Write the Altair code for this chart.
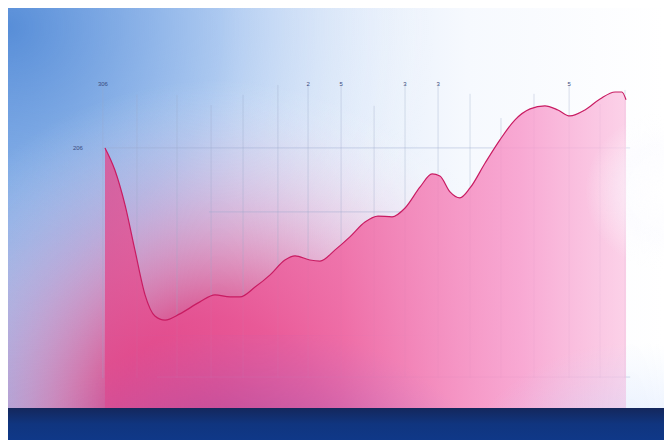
import altair as alt
import pandas as pd

# ---- data ----
curve_x = [0, 0.38, 0.77, 1.15, 1.54, 1.92, 2.31, 2.88, 3.65, 4.23, 4.81, 5.19, 5.77, 6.35,
           6.92, 7.31, 7.88, 8.27, 8.85, 9.42, 10.0, 10.5, 11.04, 11.54, 12.12, 12.58, 12.88,
           13.27, 13.65, 14.04, 14.62, 15.19, 15.77, 16.35, 16.92, 17.42, 17.88, 18.46, 19.04,
           19.62, 19.88, 20.04]
curve_y = [100, 91.5, 78.1, 60.8, 43.5, 35.4, 33.8, 36.2, 40.8, 43.5, 42.7, 42.7, 46.5, 51.2,
           56.9, 58.5, 56.9, 56.5, 60.8, 65.8, 71.5, 73.8, 73.5, 76.9, 85.0, 90.0, 89.2,
           83.1, 80.8, 84.6, 94.2, 103.1, 110.8, 115.0, 116.2, 114.6, 112.3, 114.6, 118.8,
           121.5, 121.5, 118.5]

vgrid_x = [-0.08, 1.23, 2.77, 4.08, 5.31, 6.65, 7.81, 9.08, 10.35, 11.54, 12.81, 14.04,
           15.23, 16.5, 17.85, 19.04, 20.0]
vgrid_top = [124.2, 120.4, 120.4, 116.5, 120.4, 124.2, 124.2, 124.2, 116.2, 124.2, 124.2,
             120.8, 111.5, 120.8, 124.2, 116.9, 122.3]
vgrid_bottom = 11.5

hgrid_y = [100, 75.4, 11.9]
hgrid_x1 = [-0.08, 4.0, 2.0]
hgrid_x2 = [20.2, 11.5, 20.2]

label_text = ["306", "206", "2", "5", "3", "3", "5"]
label_x = [-0.08, -1.04, 7.81, 9.08, 11.54, 12.81, 17.85]
label_y = [124.6, 100, 124.6, 124.6, 124.6, 124.6, 124.6]

X_DOMAIN = [-3.73, 21.5]
Y_DOMAIN = [-12.3, 153.8]

W, H = 656, 432

curve = pd.DataFrame({"x": curve_x, "y": curve_y, "base": [0] * len(curve_x)})
vgrid = pd.DataFrame({"x": vgrid_x, "top": vgrid_top, "bottom": [vgrid_bottom] * len(vgrid_x)})
hgrid = pd.DataFrame({"y": hgrid_y, "xa": hgrid_x1, "xb": hgrid_x2})
labels = pd.DataFrame({"t": label_text, "x": label_x, "y": label_y})
band = pd.DataFrame({"xa": [X_DOMAIN[0]], "xb": [X_DOMAIN[1]], "ya": [0], "yb": [Y_DOMAIN[0]]})
frame = pd.DataFrame({"xa": [X_DOMAIN[0]], "xb": [X_DOMAIN[1]],
                      "ya": [Y_DOMAIN[1]], "yb": [Y_DOMAIN[0]]})
haze_box = pd.DataFrame({"xa": [-2.5], "xb": [16.0], "ya": [28.0], "yb": [0]})


def X(f):
    return alt.X(f, type="quantitative", axis=None,
                 scale=alt.Scale(domain=X_DOMAIN, nice=False, zero=False))


def Y(f):
    return alt.Y(f, type="quantitative", axis=None,
                 scale=alt.Scale(domain=Y_DOMAIN, nice=False, zero=False))


def radial(cx, cy, r, stops):
    return {"gradient": "radial", "x1": cx, "y1": cy, "r1": 0, "x2": cx, "y2": cy, "r2": r,
            "stops": [{"offset": o, "color": c} for o, c in stops]}


def linear(x1, y1, x2, y2, stops):
    return {"gradient": "linear", "x1": x1, "y1": y1, "x2": x2, "y2": y2,
            "stops": [{"offset": o, "color": c} for o, c in stops]}


def box_rect(df, fill):
    return alt.Chart(df).mark_rect(color=fill).encode(
        x=X("xa"), x2=alt.X2("xb"), y=Y("ya"), y2=alt.Y2("yb"))


base_bg = box_rect(frame, linear(0, 0, 1, 0, [(0, "#86afe6"), (0.35, "#d3e2f7"),
                                              (0.7, "#f6f9fe"), (1, "#ffffff")]))

blue_glow = box_rect(frame, radial(0.0, 0.2, 0.65, [(0, "rgba(85,140,215,0.95)"),
                                                    (0.5, "rgba(140,180,235,0.5)"),
                                                    (1, "rgba(255,255,255,0)")]))

pink_glow = box_rect(frame, radial(0.32, 0.8, 0.52, [(0, "rgba(210,30,98,1)"),
                                                     (0.3, "rgba(222,58,124,0.85)"),
                                                     (0.65, "rgba(238,140,188,0.35)"),
                                                     (1, "rgba(255,255,255,0)")]))

area = alt.Chart(curve).mark_area(
    interpolate="monotone",
    color=linear(0, 0, 1, 0, [(0, "rgba(226,70,138,0.75)"), (0.45, "rgba(240,102,162,0.85)"),
                              (0.8, "rgba(248,155,204,0.85)"), (1, "rgba(251,195,225,0.75)")])
).encode(x=X("x"), y=Y("y"), y2=alt.Y2("base"))

line = alt.Chart(curve).mark_line(interpolate="monotone", strokeWidth=1.2,
                                  color="#c81c62").encode(x=X("x"), y=Y("y"))

purple_haze = box_rect(haze_box, radial(0.45, 1.0, 0.6, [(0, "rgba(95,45,150,0.9)"),
                                                         (0.5, "rgba(125,70,170,0.5)"),
                                                         (1, "rgba(150,120,220,0)")]))

blue_floor = box_rect(frame, radial(0.95, 0.98, 0.3, [(0, "rgba(170,200,250,0.8)"),
                                                      (1, "rgba(200,220,255,0)")]))

white_right = box_rect(frame, radial(1.0, 0.45, 0.12, [(0, "rgba(255,255,255,0.85)"),
                                                       (0.6, "rgba(250,250,255,0.4)"),
                                                       (1, "rgba(255,255,255,0)")]))

vlines = alt.Chart(vgrid).mark_rule(color="#9aa8c8", strokeWidth=0.8, opacity=0.45).encode(
    x=X("x"), y=Y("top"), y2=alt.Y2("bottom"))

hlines = alt.Chart(hgrid).mark_rule(color="#9aa8cc", strokeWidth=0.9, opacity=0.5).encode(
    x=X("xa"), x2=alt.X2("xb"), y=Y("y"))

text = alt.Chart(labels).mark_text(fontSize=6, color="#3c4c7e", baseline="middle").encode(
    x=X("x"), y=Y("y"), text=alt.Text("t", type="nominal"))

navy = box_rect(band, linear(0, 0, 0, 1, [(0, "#14275c"), (0.5, "#10357f"), (1, "#0f3888")]))

chart = alt.layer(base_bg, blue_glow, pink_glow, vlines, hlines, area, line, purple_haze,
                  blue_floor, white_right, text, navy).properties(
    width=W, height=H, padding=0
).configure_view(strokeWidth=0)

chart.save("out.html", embed_options={"renderer": "svg", "actions": False})
